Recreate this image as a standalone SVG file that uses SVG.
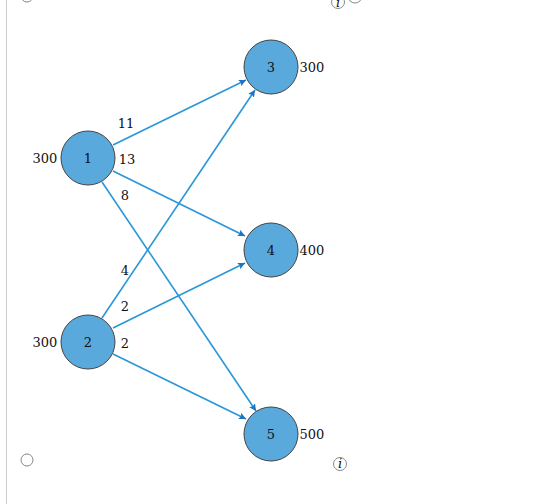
<svg xmlns="http://www.w3.org/2000/svg" width="559" height="504" viewBox="0 0 559 504">
<defs>
<style>
.node circle{fill:#5aa9dd;stroke:#444;stroke-width:1}
text{font-family:"DejaVu Serif","Liberation Serif",serif;font-size:13px;fill:#111}
.nl{text-anchor:middle;dominant-baseline:central}
.edge{stroke:#2996d8;stroke-width:1.6;fill:none;marker-end:url(#ah)}
.ui{fill:none;stroke:#888;stroke-width:1}
</style>
<marker id="ah" viewBox="0 0 10 10" refX="10" refY="5" markerWidth="7" markerHeight="7" markerUnits="userSpaceOnUse" orient="auto"><path d="M0,0 L10,5 L0,10 L2,5 z" fill="#1a73c4"/></marker>
</defs>
<rect width="559" height="504" fill="#fff"/>
<line x1="6.5" y1="0" x2="6.5" y2="504" stroke="#ccc" stroke-width="1"/>
<circle class="ui" cx="27" cy="-4" r="6"/>
<circle class="ui" cx="355" cy="-4" r="7"/>
<circle class="ui" cx="338" cy="2" r="6.5" stroke="#555"/>
<text x="338" y="7" font-size="10" font-style="italic" text-anchor="middle">i</text>
<circle class="ui" cx="27" cy="460" r="6"/>
<circle class="ui" cx="340" cy="464" r="6.5" stroke="#555"/>
<text x="340" y="468" font-size="10" font-style="italic" text-anchor="middle">i</text>
<g id="connectors">
<line class="edge" x1="113" y1="145" x2="246" y2="80"/>
<line class="edge" x1="113" y1="171" x2="245" y2="236"/>
<line class="edge" x1="102" y1="182" x2="256" y2="411"/>
<line class="edge" x1="102" y1="318" x2="255" y2="90"/>
<line class="edge" x1="113" y1="328" x2="245" y2="263"/>
<line class="edge" x1="113" y1="354" x2="246" y2="419"/>
<text class="nl" x="126" y="123">11</text>
<text class="nl" x="127" y="159">13</text>
<text class="nl" x="125" y="195">8</text>
<text class="nl" x="125" y="270">4</text>
<text class="nl" x="125" y="306">2</text>
<text class="nl" x="125" y="343">2</text>
</g>
<g id="node1" class="node"><circle cx="88" cy="158" r="27"/><text class="nl" x="88" y="158">1</text><text class="nl" x="45" y="158">300</text></g>
<g id="node2" class="node"><circle cx="88" cy="342" r="27"/><text class="nl" x="88" y="342">2</text><text class="nl" x="45" y="342">300</text></g>
<g id="node3" class="node"><circle cx="271" cy="67" r="27"/><text class="nl" x="271" y="67">3</text><text class="nl" x="312" y="67">300</text></g>
<g id="node4" class="node"><circle cx="271" cy="250" r="27"/><text class="nl" x="271" y="250">4</text><text class="nl" x="312" y="250">400</text></g>
<g id="node5" class="node"><circle cx="271" cy="434" r="27"/><text class="nl" x="271" y="434">5</text><text class="nl" x="312" y="434">500</text></g>
</svg>
